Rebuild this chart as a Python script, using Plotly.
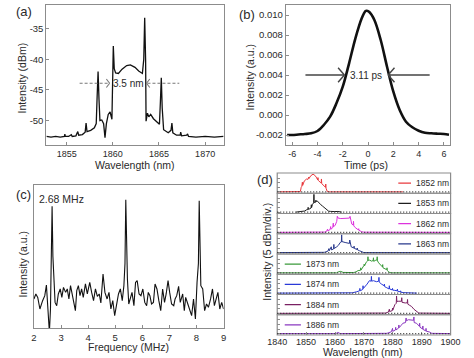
import plotly.graph_objects as go

# ---------------- data ----------------
# (a) optical spectrum
a_wl = [1852.8, 1853.3, 1853.8, 1854.3, 1854.75, 1854.8, 1854.85, 1855.2, 1855.5, 1855.6, 1856.0, 1856.2, 1856.3,
        1856.7, 1857.0, 1857.1, 1857.2, 1857.6, 1858.0, 1858.2, 1858.3, 1858.4, 1858.5, 1858.6, 1858.8, 1859.0,
        1859.15, 1859.3, 1859.5, 1859.7, 1859.9, 1860.0, 1860.05, 1860.15, 1860.3, 1860.6, 1861.0, 1861.5, 1861.9,
        1862.4, 1862.8, 1863.2, 1863.35, 1863.45, 1863.55, 1863.6, 1863.75, 1863.9, 1864.1, 1864.4, 1864.8,
        1865.05, 1865.15, 1865.25, 1865.35, 1865.5, 1866.0, 1866.3, 1866.4, 1866.5, 1866.9, 1867.3, 1867.35,
        1867.45, 1868.0, 1868.1, 1868.2, 1869.0, 1870.0, 1871.0, 1872.0]
a_db = [-52.6, -52.7, -52.6, -52.7, -52.6, -52.2, -52.6, -52.6, -52.3, -52.6, -52.5, -51.8, -52.4,
        -52.3, -51.9, -50.4, -51.8, -51.6, -51.2, -50.5, -46.0, -42.0, -46.5, -50.0, -49.9, -50.5,
        -52.8, -50.5, -49.0, -48.6, -49.8, -42.0, -37.8, -41.5, -42.2, -42.3, -41.6, -41.0, -40.9,
        -41.3, -41.9, -42.3, -40.0, -33.2, -40.0, -50.1, -48.8, -49.4, -49.0, -49.7, -50.3,
        -50.6, -47.0, -43.0, -48.0, -51.5, -52.0, -51.6, -50.4, -52.0, -52.4, -52.4, -51.9,
        -52.5, -52.4, -52.2, -52.6, -52.7, -52.6, -52.7, -52.6]

# (b) autocorrelation trace
b_t = [-6.4, -6.0, -5.5, -5.0, -4.5, -4.0, -3.5, -3.0, -2.5, -2.0, -1.5, -1.0, -0.5, -0.2, -0.1,
       0.1, 0.5, 1.0, 1.5, 2.0, 2.5, 3.0, 3.5, 4.0, 4.5, 5.0, 5.5, 6.0, 6.4]
b_i = [-0.00200, -0.00200, -0.00195, -0.00190, -0.00183, -0.00160, -0.00100, -0.00017, 0.00117, 0.00283,
       0.00517, 0.00767, 0.00967, 0.01040, 0.01043, 0.01030, 0.00950, 0.00750, 0.00483, 0.00233, 0.00050,
       -0.00067, -0.00123, -0.00157, -0.00177, -0.00183, -0.00187, -0.00190, -0.00197]

# (c) RF spectrum
c_f = [2.00, 2.07, 2.14, 2.22, 2.32, 2.40, 2.46, 2.52, 2.57, 2.61, 2.64, 2.67, 2.70, 2.73, 2.78, 2.84, 2.90,
       2.97, 3.03, 3.09, 3.17, 3.23, 3.29, 3.35, 3.41, 3.47, 3.53, 3.58, 3.64, 3.70, 3.76, 3.82, 3.90,
       3.97, 4.06, 4.13, 4.20, 4.27, 4.34, 4.41, 4.47, 4.55, 4.62, 4.70, 4.77, 4.84, 4.91, 4.98, 5.05,
       5.12, 5.19, 5.26, 5.32, 5.36, 5.39, 5.42, 5.45, 5.50, 5.56, 5.62, 5.69, 5.75, 5.81, 5.88, 5.95,
       6.02, 6.09, 6.16, 6.22, 6.28, 6.34, 6.41, 6.47, 6.54, 6.61, 6.68, 6.75, 6.82, 6.88, 6.95, 7.01,
       7.08, 7.16, 7.21, 7.27, 7.34, 7.40, 7.49, 7.55, 7.60, 7.68, 7.75, 7.82, 7.89, 7.96, 8.02, 8.07,
       8.10, 8.13, 8.16, 8.23, 8.30, 8.37, 8.44, 8.52, 8.59, 8.66, 8.72, 8.79, 8.86, 8.93, 9.00]
c_v = [20.3, 23.8, 21.4, 13.3, 19.1, 22.6, 30.1, 15.6, -3.0, 13.3, 40.0, 85.1, 50.0, 34.3, 17.9, 15.6, 23.8,
       27.3, 21.4, 28.4, 24.9, 27.3, 20.3, 29.6, 23.8, 17.9, 12.1, 26.1, 29.6, 22.6, 27.3, 21.4, 30.8,
       23.8, 31.9, 24.9, 19.1, 27.3, 22.1, 23.8, 17.5, 37.8, 24.9, 20.3, 24.9, 13.3, 19.1, 8.6, 17.9,
       23.8, 27.3, 19.1, 29.6, 45.0, 89.7, 55.0, 34.3, 16.8, 21.4, 24.9, 15.6, 31.9, 33.1, 23.8, 22.6,
       27.3, 17.9, 15.6, 24.9, 22.6, 16.8, 17.9, 30.8, 27.3, 19.1, 12.1, 27.3, 17.9, 23.8, 33.1, 24.9,
       16.8, 15.6, 20.3, 22.6, 29.1, 17.9, 23.8, 12.1, 21.4, 16.8, 13.3, 8.6, 20.3, 6.3, 31.9, 45.0,
       89.0, 55.0, 29.6, 27.3, 12.1, 16.8, 14.5, 20.3, 27.3, 15.6, 20.3, 24.9, 13.3, 17.9, 13.3]

# (d) tunable spectra (relative level, 5 dBm/div)
d_labels = ["1852 nm", "1853 nm", "1862 nm", "1863 nm", "1873 nm", "1874 nm", "1884 nm", "1886 nm"]
d_colors = ["#e8383d", "#1e1e1e", "#dd33dd", "#28388c", "#3a9a3a", "#2a3ad8", "#7a2062", "#8a38c0"]
d_x = [
    [1840, 1848.0, 1848.3, 1848.5, 1848.7, 1848.8, 1849.4, 1850.2, 1850.6, 1850.9, 1851.0, 1851.6, 1852.4,
     1853.0, 1853.5, 1854.0, 1854.1, 1854.2, 1854.9, 1855.2, 1855.3, 1855.4, 1856.2, 1856.7, 1856.8, 1856.9,
     1857.3, 1858, 1883.5],
    [1846.5, 1848.5, 1849.5, 1850.2, 1850.6, 1850.7, 1850.8, 1851.3, 1851.7, 1851.8, 1851.9, 1852.2, 1852.6,
     1852.7, 1852.8, 1853.2, 1853.4, 1853.5, 1853.9, 1854.4, 1855.1, 1855.7, 1856.2, 1857.3, 1857.8, 1858.4,
     1859.5, 1859.7, 1861, 1862.3],
    [1840, 1856.5, 1857.2, 1857.4, 1857.5, 1858.3, 1858.5, 1858.6, 1859.2, 1859.4, 1859.5, 1860.1, 1860.6,
     1860.8, 1861.0, 1862, 1863, 1864, 1865.0, 1865.2, 1865.4, 1865.8, 1866.3, 1866.4, 1866.5, 1867.0,
     1867.5, 1868.1, 1868.2, 1868.3, 1869.2, 1870, 1900],
    [1840, 1856.3, 1857.5, 1857.9, 1858.0, 1858.7, 1858.8, 1859.5, 1859.6, 1859.7, 1860.6, 1861.2, 1861.8,
     1862.2, 1862.3, 1862.4, 1863.5, 1864.5, 1865.0, 1865.1, 1865.3, 1865.6, 1866.5, 1866.6, 1866.7, 1867.6,
     1867.7, 1867.8, 1868.5, 1869.2, 1870, 1900],
    [1840, 1860.5, 1861.2, 1862.0, 1862.8, 1866.5, 1867.3, 1868.0, 1868.8, 1868.9, 1869.0, 1870.0, 1870.1,
     1870.2, 1870.8, 1871.3, 1871.4, 1871.5, 1872.0, 1872.7, 1873.2, 1873.3, 1873.4, 1873.9, 1874.5, 1874.6,
     1874.7, 1875.1, 1876.0, 1876.4, 1876.5, 1876.6, 1877.3, 1877.9, 1878.0, 1878.1, 1878.7, 1879.5, 1900],
    [1840, 1866.0, 1867.5, 1868.5, 1868.6, 1868.7, 1869.6, 1869.7, 1869.8, 1871.1, 1871.9, 1872.5, 1872.6,
     1872.7, 1873.3, 1874.4, 1875.1, 1875.2, 1875.3, 1876.0, 1877.0, 1877.1, 1877.2, 1877.7, 1878.7, 1878.8,
     1878.9, 1879.8, 1879.9, 1880.0, 1880.7, 1881.5, 1881.6, 1881.7, 1882.6, 1882.7, 1882.8, 1883.8, 1888.3],
    [1840, 1877.5, 1878.5, 1878.8, 1878.9, 1879.8, 1879.9, 1880.0, 1880.7, 1881.2, 1881.3, 1881.4, 1882.1,
     1883.0, 1883.1, 1883.2, 1884.3, 1885.0, 1885.1, 1885.2, 1885.7, 1886.5, 1887.3, 1888.2, 1889, 1900],
    [1840, 1860.3, 1861.0, 1861.8, 1878.0, 1879.5, 1879.9, 1880.0, 1880.9, 1881.0, 1881.1, 1882.0, 1882.1,
     1882.2, 1882.9, 1883.5, 1884.4, 1884.6, 1884.7, 1885.4, 1886.5, 1887.2, 1887.3, 1887.4, 1888.2, 1889.2,
     1889.3, 1889.4, 1890.3, 1890.4, 1890.5, 1891.4, 1891.5, 1891.6, 1892.6, 1893.5, 1900],
]
d_y = [
    [0, 0.3, 5, 6, 10.5, 7, 12, 14, 13.5, 16, 14.5, 17.5, 19.2, 18, 16, 13, 15.5, 12.5, 10.4, 9.5, 14, 9,
     6.5, 5, 8.5, 4, 0.5, 0, 0],
    [0, 0.7, 1.2, 2.6, 2.8, 5.2, 3, 3.7, 4.5, 8, 5, 8.5, 10, 19.3, 10.5, 10.5, 13, 11.5, 12, 10, 8, 6.5, 5,
     1.5, 1.0, 0.8, 1.3, 0.6, 0.7, 0],
    [0, 0.3, 1.5, 3.5, 1.8, 3, 6.3, 3.5, 5, 10, 6, 8, 12, 17.5, 15.6, 15, 15.3, 15, 15.5, 17.4, 13, 9, 8, 12,
     7, 5.2, 3.7, 2.6, 4, 2.3, 0.7, 0.2, 0],
    [0, 0.3, 1.5, 4.4, 2, 6.3, 3, 4, 8.9, 4.5, 6.3, 8, 11, 11.5, 19.3, 12, 11, 10.5, 10, 13.7, 9, 6.3, 5, 7,
     4.5, 3.5, 5, 3, 2, 0.7, 0, 0],
    [0, 0, 1.2, 1.6, 0.5, 0.3, 1.2, 2.5, 2.8, 5.5, 3, 8, 9.5, 7.5, 11.6, 13, 17.5, 13.5, 13.8, 12.7, 13.5,
     16.4, 12.5, 13.5, 14, 17.5, 13, 10.9, 7.3, 6.5, 9, 5.5, 4.4, 3.5, 5.5, 2.5, 0.7, 0, 0],
    [0, 0.3, 1.5, 2.5, 5.1, 2.5, 4, 8, 5, 9.8, 13.5, 13, 18.2, 13, 13.5, 12.4, 13, 17.1, 12, 10, 8, 9.8, 7,
     6.2, 4.5, 8, 4.5, 3.5, 5.1, 3.2, 3, 2.5, 4.4, 2, 1.5, 2.5, 1, 0.5, 0],
    [0, 0.3, 1.5, 4.5, 2, 3, 5.7, 3.5, 9.4, 11, 18.9, 13, 13.2, 13.2, 17, 12, 11.3, 11.5, 15.1, 10, 9, 7.5,
     4.5, 1.9, 0.3, 0],
    [0, 0, 1.3, 0, 0.3, 2, 5.7, 2.5, 4, 6.8, 4, 6, 9.4, 6.5, 9, 11.3, 12, 17, 14, 15.1, 14.3, 14.5, 18.1,
     12, 11.3, 8, 11.3, 7, 5, 8.3, 4.5, 3, 5.7, 2.5, 1.9, 0.3, 0],
]

a_xticks = [1855, 1860, 1865, 1870]
a_yticks = [-50, -45, -40, -35]
b_xticks = [-6, -4, -2, 0, 2, 4, 6]
b_yticks = [-0.002, 0.000, 0.002, 0.004, 0.006, 0.008, 0.010]
c_xticks = [2, 3, 4, 5, 6, 7, 8, 9]
d_xticks = [1840, 1850, 1860, 1870, 1880, 1890, 1900]

# ---------------- layout helpers ----------------
W, H = 474, 358
FONT = "Liberation Sans, Arial, sans-serif"
TXT = "#2a2a2a"
FRAME = "#8c8c8c"


def fx(p):
    return p / W


def fy(p):
    return 1 - p / H


fig = go.Figure()

fig.add_trace(go.Scatter(x=a_wl, y=a_db, mode="lines", line=dict(color="#111", width=1.3),
                         xaxis="x", yaxis="y", showlegend=False))
fig.add_trace(go.Scatter(x=b_t, y=b_i, mode="lines", line=dict(color="#111", width=2.6, shape="spline"),
                         xaxis="x2", yaxis="y2", showlegend=False))
fig.add_trace(go.Scatter(x=c_f, y=c_v, mode="lines", line=dict(color="#111", width=1.1),
                         xaxis="x3", yaxis="y3", showlegend=False))

n_sub = len(d_labels)
d_top, d_bot = 173.0, 335.0
sub_h = (d_bot - d_top) / n_sub
for k in range(n_sub):
    fig.add_trace(go.Scatter(x=d_x[k], y=d_y[k], mode="lines", line=dict(color=d_colors[k], width=1.0),
                             xaxis="x4", yaxis="y%d" % (4 + k), showlegend=False))

axis_common = dict(showgrid=False, zeroline=False, showline=True, mirror=True, linecolor=FRAME,
                   linewidth=1.2, ticks="inside", ticklen=3, tickcolor=FRAME,
                   tickfont=dict(family=FONT, size=9.5, color=TXT))

layout = dict(
    width=W, height=H, autosize=False, margin=dict(l=0, r=0, t=0, b=0),
    paper_bgcolor="white", plot_bgcolor="white", showlegend=False,
    font=dict(family=FONT, color=TXT),
    xaxis=dict(axis_common, domain=[fx(38), fx(223)], range=[1852.8, 1872], anchor="y",
               tickfont=dict(family=FONT, size=9, color=TXT),
               tickvals=a_xticks, ticktext=[str(v) for v in a_xticks]),
    yaxis=dict(axis_common, domain=[fy(145), fy(5)], range=[-54, -31.1], anchor="x",
               tickvals=a_yticks, ticktext=["%d" % v for v in a_yticks]),
    xaxis2=dict(axis_common, domain=[fx(288), fx(459)], range=[-6.5, 6.45], anchor="y2",
                tickfont=dict(family=FONT, size=9, color=TXT),
                tickvals=b_xticks, ticktext=["%d" % v for v in b_xticks]),
    yaxis2=dict(axis_common, domain=[fy(145), fy(5)], range=[-0.003, 0.0110], anchor="x2",
                tickvals=b_yticks, ticktext=["%.3f" % v for v in b_yticks]),
    xaxis3=dict(axis_common, domain=[fx(25), fx(223)], range=[2, 9], anchor="y3",
                tickvals=c_xticks, ticktext=[str(v) for v in c_xticks]),
    yaxis3=dict(axis_common, domain=[fy(328), fy(185)], range=[0, 100], anchor="x3",
                showticklabels=False, ticks=""),
    xaxis4=dict(axis_common, domain=[fx(279), fx(460)], range=[1840, 1900], anchor="y%d" % (3 + n_sub),
                showline=False, mirror=False, tickfont=dict(family=FONT, size=9, color=TXT),
                tickvals=d_xticks, ticktext=[str(v) for v in d_xticks]),
)
for k in range(n_sub):
    t = d_top + k * sub_h
    b = t + sub_h
    layout["yaxis%d" % (4 + k)] = dict(showgrid=False, zeroline=False, showline=False,
                                       domain=[fy(b), fy(t)], range=[-1.5, 20.5], anchor="x4",
                                       ticks="inside", ticklen=3, tickcolor=FRAME, dtick=5,
                                       tick0=0, showticklabels=False)
fig.update_layout(**layout)

shapes = []
annots = []

# frames + dotted baselines + legends in (d)
for k in range(n_sub):
    yr = "y%d" % (4 + k)
    shapes.append(dict(type="rect", xref="x4 domain", yref=yr + " domain", x0=0, x1=1, y0=0, y1=1,
                       line=dict(color=FRAME, width=1.2), layer="above"))
    shapes.append(dict(type="line", xref="x4 domain", yref=yr, x0=0, x1=1, y0=0, y1=0,
                       line=dict(color="#333", width=1.3, dash="1px,2px"), layer="above"))
    if k < 4:
        lx0, lx1, tx = 1881.9, 1886.3, 1887.4
    else:
        lx0, lx1, tx = 1842.6, 1848.2, 1849.3
    shapes.append(dict(type="line", xref="x4", yref=yr + " domain", x0=lx0, x1=lx1, y0=0.5, y1=0.5,
                       line=dict(color=d_colors[k], width=1.2)))
    annots.append(dict(xref="x4", yref=yr + " domain", x=tx, y=0.5, text=d_labels[k], showarrow=False,
                       xanchor="left", yanchor="middle", font=dict(size=8.5, family=FONT, color=TXT)))

# (a) 3.5 nm marker
grey = "#777"
shapes += [
    dict(type="line", xref="x", yref="y", x0=1856.4, x1=1859.55, y0=-43.9, y1=-43.9,
         line=dict(color=grey, width=1.1, dash="3px,2px")),
    dict(type="line", xref="x", yref="y", x0=1859.3, x1=1859.65, y0=-43.2, y1=-43.9, line=dict(color=grey, width=1.1)),
    dict(type="line", xref="x", yref="y", x0=1859.3, x1=1859.65, y0=-44.6, y1=-43.9, line=dict(color=grey, width=1.1)),
    dict(type="line", xref="x", yref="y", x0=1863.75, x1=1867.2, y0=-43.9, y1=-43.9,
         line=dict(color=grey, width=1.1, dash="3px,2px")),
    dict(type="line", xref="x", yref="y", x0=1864.0, x1=1863.65, y0=-43.2, y1=-43.9, line=dict(color=grey, width=1.1)),
    dict(type="line", xref="x", yref="y", x0=1864.0, x1=1863.65, y0=-44.6, y1=-43.9, line=dict(color=grey, width=1.1)),
]
annots.append(dict(xref="x", yref="y", x=1861.7, y=-43.9, text="3.5 nm", showarrow=False,
                   font=dict(size=10, family=FONT, color=TXT)))

# (b) 3.11 ps marker
dk = "#444"
shapes += [
    dict(type="line", xref="x2", yref="y2", x0=-4.95, x1=-1.87, y0=0.004, y1=0.004, line=dict(color=dk, width=1.4)),
    dict(type="line", xref="x2", yref="y2", x0=-2.37, x1=-1.87, y0=0.00473, y1=0.004, line=dict(color=dk, width=1.4)),
    dict(type="line", xref="x2", yref="y2", x0=-2.37, x1=-1.87, y0=0.00327, y1=0.004, line=dict(color=dk, width=1.4)),
    dict(type="line", xref="x2", yref="y2", x0=1.59, x1=4.87, y0=0.004, y1=0.004, line=dict(color=dk, width=1.4)),
    dict(type="line", xref="x2", yref="y2", x0=2.09, x1=1.59, y0=0.00473, y1=0.004, line=dict(color=dk, width=1.4)),
    dict(type="line", xref="x2", yref="y2", x0=2.09, x1=1.59, y0=0.00327, y1=0.004, line=dict(color=dk, width=1.4)),
]
annots.append(dict(xref="x2", yref="y2", x=-0.15, y=0.004, text="3.11 ps", showarrow=False,
                   font=dict(size=10, family=FONT, color=TXT)))

# (c) label
annots.append(dict(xref="x3", yref="y3", x=3.0, y=90, text="2.68 MHz", showarrow=False,
                   font=dict(size=10.5, family=FONT, color=TXT)))


def ptxt(x, y, text, size=10.5, angle=0):
    annots.append(dict(xref="paper", yref="paper", x=fx(x), y=fy(y), text=text, showarrow=False,
                       textangle=angle, xanchor="center", yanchor="middle",
                       font=dict(size=size, family=FONT, color=TXT)))


# panel letters
ptxt(15, 12, "(a)", 13)
ptxt(247, 14, "(b)", 13)
ptxt(14, 195, "(c)", 13)
ptxt(266, 179, "(d)", 13)
# axis titles
ptxt(130, 165, "Wavelength (nm)")
ptxt(13, 78, "Intensity (dBm)", angle=-90)
ptxt(372, 165, "Time (ps)")
ptxt(251, 77, "Intensity (a.u.)", angle=-90)
ptxt(124, 347, "Frequency (MHz)")
ptxt(14, 264, "Intensity (a.u.)", angle=-90)
ptxt(369, 352, "Wavelength (nm)")
ptxt(268, 252, "Intensity (5 dBm/div.)", angle=-90)

fig.update_layout(shapes=shapes, annotations=annots)
fig.write_html("out.html", config={"displayModeBar": False},
               post_script="document.body.style.margin='0';document.body.style.overflow='hidden';")
